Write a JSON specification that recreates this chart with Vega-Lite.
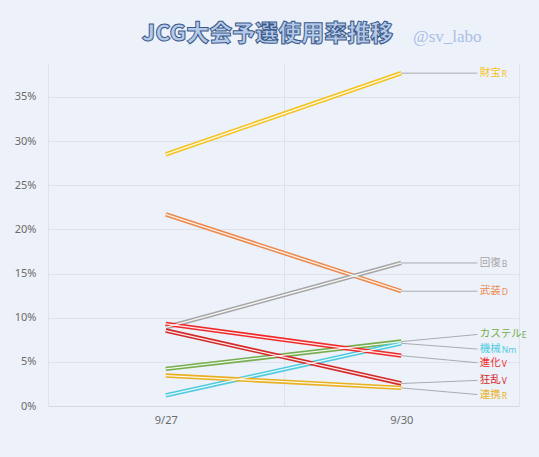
{
  "$schema": "https://vega.github.io/schema/vega-lite/v6.json",
  "autosize": "none",
  "width": 471,
  "height": 343,
  "padding": {"left": 48, "top": 63, "right": 20, "bottom": 51},
  "background": "#edf1f9",
  "title": {
    "text": "JCG大会予選使用率推移",
    "font": "Noto Sans CJK JP",
    "fontSize": 23,
    "fontWeight": 900,
    "color": "#b5cae9",
    "anchor": "middle",
    "dx": -16,
    "offset": -18
  },
  "config": {
    "view": {"stroke": null},
    "style": {"group-title": {"stroke": "#3b5a8c", "strokeWidth": 1}},
    "axis": {"labelFont": "Noto Sans", "labelFontSize": 11, "labelColor": "#6b6b6b", "gridColor": "#dde2eb", "title": null}
  },
  "datasets": {
    "lines": [
      {"type": "財宝", "day": 27, "rate": 0.285},
      {"type": "財宝", "day": 30, "rate": 0.377},
      {"type": "武装", "day": 27, "rate": 0.217},
      {"type": "武装", "day": 30, "rate": 0.130},
      {"type": "回復", "day": 27, "rate": 0.089},
      {"type": "回復", "day": 30, "rate": 0.162},
      {"type": "カステル", "day": 27, "rate": 0.042},
      {"type": "カステル", "day": 30, "rate": 0.073},
      {"type": "機械", "day": 27, "rate": 0.012},
      {"type": "機械", "day": 30, "rate": 0.071},
      {"type": "進化", "day": 27, "rate": 0.093},
      {"type": "進化", "day": 30, "rate": 0.057},
      {"type": "狂乱", "day": 27, "rate": 0.0855},
      {"type": "狂乱", "day": 30, "rate": 0.0255},
      {"type": "連携", "day": 27, "rate": 0.0345},
      {"type": "連携", "day": 30, "rate": 0.0205}
    ],
    "labels": [
      {"type": "財宝", "suffix": "R", "rate30": 0.377, "labelY": 0.377},
      {"type": "回復", "suffix": "B", "rate30": 0.162, "labelY": 0.162},
      {"type": "武装", "suffix": "D", "rate30": 0.130, "labelY": 0.130},
      {"type": "カステル", "suffix": "E", "rate30": 0.073, "labelY": 0.081},
      {"type": "機械", "suffix": "Nm", "rate30": 0.071, "labelY": 0.0645},
      {"type": "進化", "suffix": "V", "rate30": 0.057, "labelY": 0.049},
      {"type": "狂乱", "suffix": "V", "rate30": 0.0255, "labelY": 0.029},
      {"type": "連携", "suffix": "R", "rate30": 0.0205, "labelY": 0.013}
    ]
  },
  "layer": [
    {
      "data": {"name": "lines"},
      "mark": {"type": "line", "strokeWidth": 4.4, "strokeCap": "butt"},
      "encoding": {
        "x": {
          "field": "day", "type": "quantitative",
          "scale": {"domain": [25.5, 31.5], "nice": false, "zero": false},
          "axis": {
            "values": [25.5, 27, 28.5, 30, 31.5],
            "labelExpr": "datum.value == 27 ? '9/27' : datum.value == 30 ? '9/30' : ''",
            "ticks": false,
            "labelPadding": 8,
            "domainColor": "#d3d8e1",
            "grid": true,
            "gridOpacity": {"condition": {"test": "datum.value == 27 || datum.value == 30", "value": 0}, "value": 1}
          }
        },
        "y": {
          "field": "rate", "type": "quantitative",
          "scale": {"domain": [0, 0.3885], "nice": false},
          "axis": {
            "values": [0, 0.05, 0.1, 0.15, 0.2, 0.25, 0.3, 0.35],
            "format": ".0%",
            "ticks": false,
            "domain": false,
            "labelPadding": 12
          }
        },
        "color": {
          "field": "type", "type": "nominal", "legend": null,
          "scale": {
            "domain": ["財宝", "武装", "回復", "カステル", "機械", "進化", "狂乱", "連携"],
            "range": ["#f5c21c", "#ec8a4e", "#a6a6a6", "#74ae4e", "#4ecbe0", "#ee2b2b", "#d42a2a", "#e9b020"]
          }
        },
        "detail": {"field": "type"}
      }
    },
    {
      "data": {"name": "lines"},
      "mark": {"type": "line", "strokeWidth": 1.3, "color": "#ffffff", "opacity": 0.9},
      "encoding": {
        "x": {"field": "day", "type": "quantitative"},
        "y": {"field": "rate", "type": "quantitative"},
        "detail": {"field": "type"}
      }
    },
    {
      "data": {"name": "labels"},
      "mark": {"type": "rule", "color": "#a9abb0", "strokeWidth": 1},
      "encoding": {
        "x": {"datum": 30, "type": "quantitative"},
        "x2": {"datum": 30.97},
        "y": {"field": "rate30", "type": "quantitative"},
        "y2": {"field": "labelY"}
      }
    },
    {
      "data": {"name": "labels"},
      "mark": {"type": "text", "align": "left", "baseline": "middle", "font": "Noto Sans CJK JP", "fontSize": 10.5},
      "encoding": {
        "x": {"datum": 31.0, "type": "quantitative"},
        "y": {"field": "labelY", "type": "quantitative"},
        "text": {"field": "type"},
        "color": {"field": "type", "type": "nominal", "legend": null}
      }
    },
    {
      "data": {"name": "labels"},
      "transform": [{"filter": "length(datum.type) == 2"}],
      "mark": {"type": "text", "align": "left", "baseline": "middle", "font": "Noto Sans", "fontSize": 8.5, "dx": 22, "dy": 1},
      "encoding": {
        "x": {"datum": 31.0, "type": "quantitative"},
        "y": {"field": "labelY", "type": "quantitative"},
        "text": {"field": "suffix"},
        "color": {"field": "type", "type": "nominal", "legend": null}
      }
    },
    {
      "data": {"name": "labels"},
      "transform": [{"filter": "length(datum.type) == 4"}],
      "mark": {"type": "text", "align": "left", "baseline": "middle", "font": "Noto Sans", "fontSize": 8.5, "dx": 42, "dy": 1},
      "encoding": {
        "x": {"datum": 31.0, "type": "quantitative"},
        "y": {"field": "labelY", "type": "quantitative"},
        "text": {"field": "suffix"},
        "color": {"field": "type", "type": "nominal", "legend": null}
      }
    },
    {
      "data": {"values": [{"note": "@sv_labo"}]},
      "mark": {"type": "text", "align": "left", "baseline": "middle", "font": "Liberation Serif", "fontSize": 17, "color": "#a9c0e6"},
      "encoding": {
        "x": {"datum": 30.15, "type": "quantitative"},
        "y": {"datum": 0.4185, "type": "quantitative"},
        "text": {"field": "note"}
      }
    }
  ]
}
